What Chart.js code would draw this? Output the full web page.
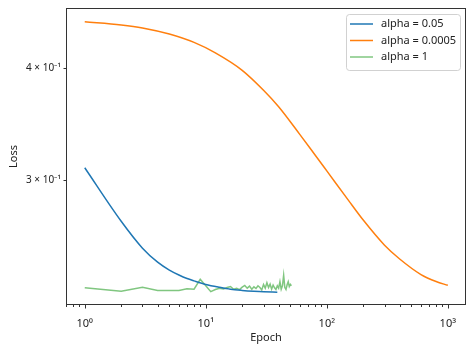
<!DOCTYPE html>
<html>
<head>
<meta charset="utf-8">
<script src="https://cdn.jsdelivr.net/npm/chart.js@4/dist/chart.umd.min.js"></script>
<style>
  html, body { margin: 0; padding: 0; background: #fff; }
  #wrap { width: 474px; height: 351px; }
</style>
</head>
<body>
<div id="wrap"><canvas id="lossChart"></canvas></div>
<script>
// données
const blueEpochs = [1, 2, 3, 4, 5, 6, 7, 8, 10, 13, 16, 20, 25, 30, 39];
const blueLoss = [0.3099, 0.2702, 0.2522, 0.2433, 0.2384, 0.2354, 0.2333, 0.2319,
  0.2298, 0.2281, 0.2270, 0.2263, 0.2258, 0.2255, 0.2253];

const orangeEpochs = [1, 2, 3, 5, 8, 12, 20, 30, 40, 60, 80, 100, 150, 200, 300, 400, 600, 800, 1000];
const orangeLoss = [0.4506, 0.4469, 0.4435, 0.4366, 0.4273, 0.4160, 0.3978, 0.3780, 0.3624,
  0.3374, 0.3202, 0.3074, 0.2854, 0.2710, 0.2541, 0.2453, 0.2357, 0.2315, 0.2293];

const greenLoss = [0.2279, 0.2258, 0.2281, 0.2262, 0.2262, 0.2262, 0.2272, 0.2270, 0.2328, 0.2290,
  0.2256, 0.2268, 0.2276, 0.2272, 0.2280, 0.2286, 0.2270, 0.2276, 0.2268, 0.2282,
  0.2292, 0.2276, 0.2288, 0.2270, 0.2284, 0.2274, 0.2290, 0.2280, 0.2266, 0.2298,
  0.2276, 0.2308, 0.2280, 0.2300, 0.2270, 0.2294, 0.2278, 0.2268, 0.2290, 0.2276,
  0.2314, 0.2270, 0.2290, 0.2353, 0.2280, 0.2268, 0.2296, 0.2314, 0.2286, 0.2298, 0.2290];
const greenEpochs = greenLoss.map((v, i) => i + 1);

const seriesLabels = ["alpha = 0.05", "alpha = 0.0005", "alpha = 1"];
const xMajorTicks = [1, 10, 100, 1000];
const xTickLabels = ["10\u2070", "10\u00b9", "10\u00b2", "10\u00b3"];
const yTicks = [0.3, 0.4];
const yTickLabels = ["3 \u00d7 10\u207b\u00b9", "4 \u00d7 10\u207b\u00b9"];

const FONT = "'Noto Sans', sans-serif";

// ticks mineurs de l'axe x (2..9 par décade)
const xMinorTicks = [];
for (let d = 0.1; d <= 1000; d *= 10) {
  for (let k = 2; k <= 9; k++) xMinorTicks.push(+(k * d).toPrecision(3));
}

const toPoints = (xs, ys) => xs.map((x, i) => ({ x: x, y: ys[i] }));

// cadre + petites graduations + légende
const framePlugin = {
  id: "frame",
  afterDraw(chart) {
    const { ctx, chartArea: a, scales } = chart;
    ctx.save();
    ctx.strokeStyle = "#333";
    ctx.lineWidth = 1;
    ctx.strokeRect(a.left + 0.5, a.top + 0.5, a.right - a.left - 1, a.bottom - a.top - 1);

    const xs = scales.x;
    const mark = (v, len) => {
      if (v < xs.min || v > xs.max) return;
      const px = Math.round(xs.getPixelForValue(v)) + 0.5;
      ctx.beginPath();
      ctx.moveTo(px, a.bottom);
      ctx.lineTo(px, a.bottom + len);
      ctx.stroke();
    };
    xMajorTicks.forEach((v) => mark(v, 3.5));
    xMinorTicks.forEach((v) => mark(v, 2));
    yTicks.forEach((v) => {
      const py = Math.round(scales.y.getPixelForValue(v)) + 0.5;
      ctx.beginPath();
      ctx.moveTo(a.left, py);
      ctx.lineTo(a.left - 2.5, py);
      ctx.stroke();
    });

    // légende
    const bx = a.right - 120, by = a.top + 6, bw = 114, bh = 56;
    ctx.fillStyle = "rgba(255,255,255,0.8)";
    ctx.strokeStyle = "rgba(204,204,204,0.9)";
    ctx.beginPath();
    ctx.roundRect(bx + 0.5, by + 0.5, bw, bh, 3);
    ctx.fill();
    ctx.stroke();
    ctx.font = "11px " + FONT;
    ctx.textBaseline = "middle";
    ctx.fillStyle = "#222";
    chart.data.datasets.forEach((ds, i) => {
      const ry = by + 10 + i * 16.5;
      ctx.strokeStyle = ds.borderColor;
      ctx.lineWidth = 1.5;
      ctx.beginPath();
      ctx.moveTo(bx + 4, ry);
      ctx.lineTo(bx + 27, ry);
      ctx.stroke();
      ctx.fillText(ds.label, bx + 35, ry);
    });
    ctx.restore();
  },
};

new Chart(document.getElementById("lossChart"), {
  type: "line",
  data: {
    datasets: [
      { label: seriesLabels[0], data: toPoints(blueEpochs, blueLoss), borderColor: "#1f77b4", cubicInterpolationMode: "monotone" },
      { label: seriesLabels[1], data: toPoints(orangeEpochs, orangeLoss), borderColor: "#ff7f0e", cubicInterpolationMode: "monotone" },
      { label: seriesLabels[2], data: toPoints(greenEpochs, greenLoss), borderColor: "rgba(44,160,44,0.6)" },
    ],
  },
  options: {
    responsive: true,
    maintainAspectRatio: false,
    animation: false,
    layout: { padding: { top: 7, right: 8, left: 0, bottom: 0 } },
    elements: {
      point: { radius: 0 },
      line: { borderWidth: 1.5, tension: 0, fill: false },
    },
    plugins: { legend: { display: false }, tooltip: { enabled: false } },
    scales: {
      x: {
        type: "logarithmic",
        min: 0.708,
        max: 1413,
        afterBuildTicks: (s) => { s.ticks = xMajorTicks.map((v) => ({ value: v })); },
        afterFit: (s) => { s.height = 46; },
        ticks: {
          autoSkip: false,
          maxRotation: 0,
          padding: 8,
          color: "#222",
          font: { family: FONT, size: 11 },
          callback: (v, i) => xTickLabels[i],
        },
        grid: { drawOnChartArea: false, drawTicks: true, tickLength: 4, tickColor: "rgba(0,0,0,0)" },
        border: { display: false },
        title: { display: true, text: "Epoch", color: "#222", font: { family: FONT, size: 11 }, padding: { top: 0, bottom: 7 } },
      },
      y: {
        type: "logarithmic",
        min: 0.218,
        max: 0.4667,
        afterBuildTicks: (s) => { s.ticks = yTicks.map((v) => ({ value: v })); },
        afterFit: (s) => { s.width = 66; },
        ticks: {
          autoSkip: false,
          padding: 2,
          color: "#222",
          font: { family: FONT, size: 10 },
          callback: (v, i) => yTickLabels[i],
        },
        grid: { drawOnChartArea: false, drawTicks: true, tickLength: 3, tickColor: "rgba(0,0,0,0)" },
        border: { display: false },
        title: { display: true, text: "Loss", color: "#222", font: { family: FONT, size: 11 }, padding: { top: 7, bottom: 0 } },
      },
    },
  },
  plugins: [framePlugin],
});
</script>
</body>
</html>
